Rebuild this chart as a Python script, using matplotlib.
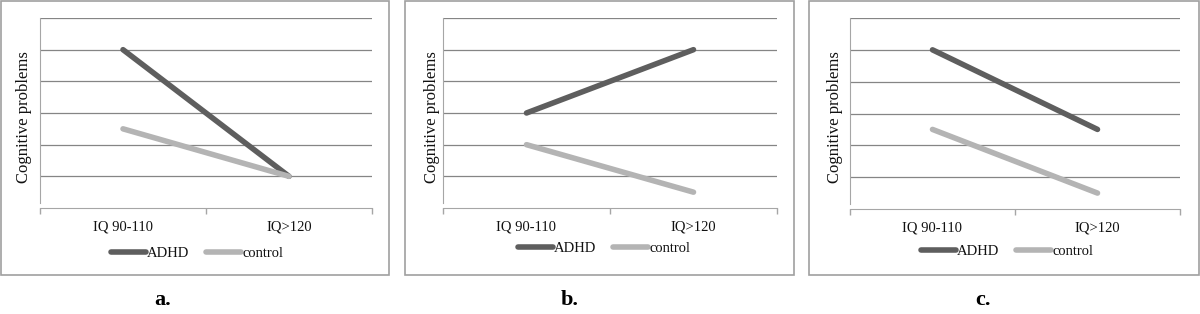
import numpy as np
import matplotlib
matplotlib.use("Agg")
import matplotlib.pyplot as plt
from matplotlib.patches import Rectangle

plt.rcParams['font.family'] = ['Liberation Serif', 'DejaVu Serif']

# Data
categories = ["IQ 90-110", "IQ>120"]
adhd_a = [5, 1]
control_a = [2.5, 1]
adhd_b = [3, 5]
control_b = [2, 0.5]
adhd_c = [5, 2.5]
control_c = [2.5, 0.5]
panel_labels = ["a.", "b.", "c."]

W, H = 1200, 314
fig = plt.figure(figsize=(W / 100, H / 100), dpi=100)


def px_axes(left, right, top, bottom):
    return fig.add_axes([left / W, 1 - bottom / H, (right - left) / W, (bottom - top) / H])


# panel borders (pixels): left, right, top, bottom
boxes = [(1, 389, 1, 275), (405, 794, 1, 275), (809, 1199, 1, 275)]
for l, r, t, b in boxes:
    fig.patches.append(Rectangle((l / W, 1 - b / H), (r - l) / W, (b - t) / H,
                                 transform=fig.transFigure, fill=False,
                                 edgecolor="#a0a0a0", linewidth=1.2))

# plot areas (pixels)
areas = [(40, 372, 18, 208), (443, 777, 18, 208), (850, 1180, 18, 209)]
ylabel_x = [24, 432, 835]
legend_pos = [(197, 253), (604, 248), (1007, 251)]
label_x = [163, 570, 983]
data = [(adhd_a, control_a), (adhd_b, control_b), (adhd_c, control_c)]

for i, ((l, r, t, b), (adhd, control)) in enumerate(zip(areas, data)):
    ax = px_axes(l, r, t, b)
    xpos = np.arange(len(categories)) + 0.5
    ax.plot(xpos, adhd, color="#5e5e5e", lw=4, solid_capstyle="round", label="ADHD", zorder=3)
    ax.plot(xpos, control, color="#b4b4b4", lw=4, solid_capstyle="round", label="control", zorder=3)
    ax.set_xlim(0, 2)
    ax.set_ylim(0, 6)
    for yv in range(1, 7):
        ax.axhline(yv, color="#858585", lw=0.9, zorder=1)
    ax.set_yticks([])
    ax.set_xticks([0, 1, 2])
    ax.set_xticks(xpos, minor=True)
    ax.set_xticklabels([])
    ax.set_xticklabels(categories, minor=True, fontsize=10.5, color="#111111")
    ax.tick_params(axis="x", which="minor", length=0, pad=9)
    ax.tick_params(axis="x", which="major", length=4, color="#a6a6a6", width=1)
    for s in ["top", "right"]:
        ax.spines[s].set_visible(False)
    ax.spines["left"].set_color("#a6a6a6")
    ax.spines["left"].set_bounds(0.17, 6)
    ax.spines["bottom"].set_color("#a6a6a6")
    ax.patch.set_alpha(0)

    fig.text(ylabel_x[i] / W, 1 - 117 / H, "Cognitive problems", rotation=90,
             ha="center", va="center", fontsize=12, color="#111111")

    lx, ly = legend_pos[i]
    leg = ax.legend(loc="center", bbox_to_anchor=(lx / W, 1 - ly / H),
                    bbox_transform=fig.transFigure, ncol=2, frameon=False,
                    fontsize=10.5, handlelength=2.4, handletextpad=0.05,
                    columnspacing=1.2)
    for txt in leg.get_texts():
        txt.set_color("#111111")

    fig.text(label_x[i] / W, 1 - 300 / H, panel_labels[i], ha="center", va="center",
             fontsize=16, fontweight="bold")

fig.savefig("out.png", dpi=100, facecolor="white")
